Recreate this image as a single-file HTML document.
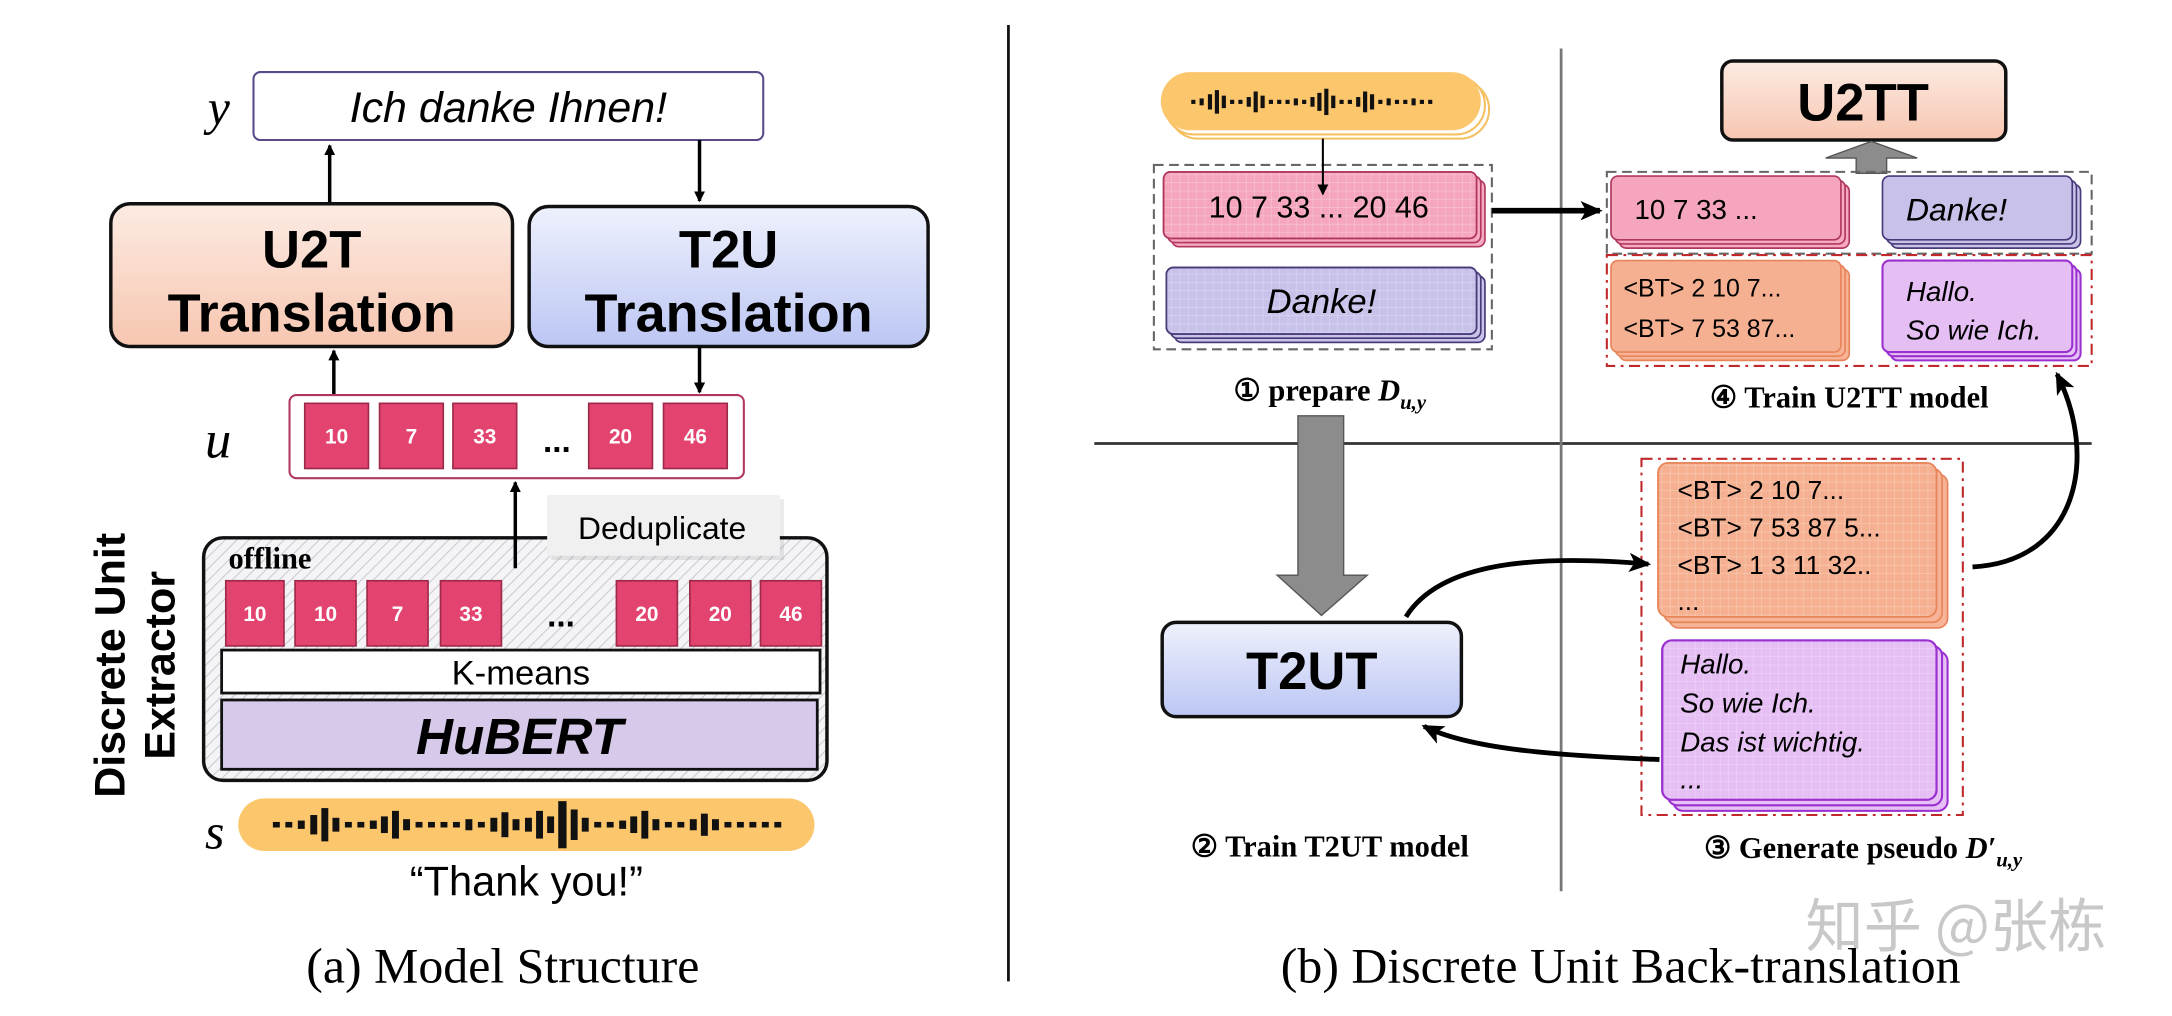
<!DOCTYPE html>
<html><head><meta charset="utf-8"><style>
html,body{margin:0;padding:0;background:#fff;}
svg{display:block;}
.sans{font-family:"Liberation Sans","DejaVu Sans",sans-serif;}
.serif{font-family:"Liberation Serif","DejaVu Serif",serif;}
</style></head><body>
<svg width="2172" height="1016" viewBox="0 0 1568 733" preserveAspectRatio="none" xmlns="http://www.w3.org/2000/svg">
<defs>
<linearGradient id="gU2T" x1="0" y1="0" x2="0" y2="1"><stop offset="0" stop-color="#fcebe3"/><stop offset="1" stop-color="#f7c6b0"/></linearGradient>
<linearGradient id="gT2U" x1="0" y1="0" x2="0" y2="1"><stop offset="0" stop-color="#eef1fc"/><stop offset="1" stop-color="#bcc6f4"/></linearGradient>
<pattern id="hatch" width="6" height="6" patternUnits="userSpaceOnUse" patternTransform="rotate(45)"><rect width="6" height="6" fill="#f4f4f6"/><line x1="0" y1="0" x2="0" y2="6" stroke="#c9c9d2" stroke-width="1.5"/></pattern>
<pattern id="grid" width="6" height="6" patternUnits="userSpaceOnUse"><path d="M6 0V6M0 6H6" stroke="#ffffff" stroke-opacity="0.35" stroke-width="0.8" fill="none"/></pattern>
<marker id="ah" markerWidth="8" markerHeight="8" refX="7" refY="4" orient="auto" markerUnits="userSpaceOnUse"><path d="M0,0 L8,4 L0,8 z" fill="#000"/></marker>
<marker id="ahb" markerWidth="16" markerHeight="14" refX="14" refY="7" orient="auto" markerUnits="userSpaceOnUse"><path d="M0,0 L16,7 L0,14 L4,7 z" fill="#000"/></marker>
</defs>

<!-- ===== Left panel ===== -->
<text x="150" y="90" class="serif" font-style="italic" font-size="36">y</text>
<rect x="183" y="52" width="368" height="49" rx="5" fill="#fff" stroke="#5a4a8a" stroke-width="1.5"/>
<text x="367" y="88" class="sans" font-style="italic" font-size="31" text-anchor="middle">Ich danke Ihnen!</text>

<line x1="238" y1="147" x2="238" y2="105" stroke="#000" stroke-width="2.5" marker-end="url(#ah)"/>
<line x1="505" y1="101" x2="505" y2="145" stroke="#000" stroke-width="2.5" marker-end="url(#ah)"/>

<rect x="80" y="147" width="290" height="103" rx="14" fill="url(#gU2T)" stroke="#111" stroke-width="2.5"/>
<text x="225" y="193" class="sans" font-weight="bold" font-size="38" text-anchor="middle">U2T</text>
<text x="225" y="239" class="sans" font-weight="bold" font-size="39" text-anchor="middle">Translation</text>
<rect x="382" y="149" width="288" height="101" rx="14" fill="url(#gT2U)" stroke="#111" stroke-width="2.5"/>
<text x="526" y="193" class="sans" font-weight="bold" font-size="38" text-anchor="middle">T2U</text>
<text x="526" y="239" class="sans" font-weight="bold" font-size="39" text-anchor="middle">Translation</text>

<line x1="241" y1="285" x2="241" y2="253" stroke="#000" stroke-width="2.5" marker-end="url(#ah)"/>
<line x1="505" y1="250" x2="505" y2="283" stroke="#000" stroke-width="2.5" marker-end="url(#ah)"/>

<text x="148" y="330" class="serif" font-style="italic" font-size="38">u</text>
<rect x="209" y="285" width="328" height="60" rx="5" fill="#fff" stroke="#b0385f" stroke-width="1.5"/>
<g fill="#e3436f" stroke="#9e2a4a" stroke-width="1.2">
<rect x="220" y="291" width="46" height="47"/><rect x="274" y="291" width="46" height="47"/><rect x="327" y="291" width="46" height="47"/>
<rect x="425" y="291" width="46" height="47"/><rect x="479" y="291" width="46" height="47"/></g>
<g class="sans" font-weight="bold" font-size="15" fill="#fff" text-anchor="middle">
<text x="243" y="320">10</text><text x="297" y="320">7</text><text x="350" y="320">33</text><text x="448" y="320">20</text><text x="502" y="320">46</text></g>
<text x="402" y="326" class="sans" font-weight="bold" font-size="24" text-anchor="middle">...</text>

<!-- offline box -->
<rect x="147" y="388" width="450" height="175" rx="14" fill="url(#hatch)" stroke="#111" stroke-width="2.5"/>
<rect x="398" y="360" width="168" height="44" fill="#000" opacity="0.08"/>
<rect x="395" y="357" width="168" height="44" fill="#f0f0f0"/>
<text x="478" y="389" class="sans" font-size="23" text-anchor="middle">Deduplicate</text>
<line x1="372" y1="410" x2="372" y2="348" stroke="#000" stroke-width="2.5" marker-end="url(#ah)"/>
<text x="165" y="410" class="serif" font-weight="bold" font-size="22">offline</text>
<g fill="#e3436f" stroke="#9e2a4a" stroke-width="1.2">
<rect x="163" y="419" width="42" height="47"/><rect x="213" y="419" width="44" height="47"/><rect x="265" y="419" width="44" height="47"/><rect x="318" y="419" width="44" height="47"/>
<rect x="445" y="419" width="44" height="47"/><rect x="498" y="419" width="44" height="47"/><rect x="549" y="419" width="44" height="47"/></g>
<g class="sans" font-weight="bold" font-size="15" fill="#fff" text-anchor="middle">
<text x="184" y="448">10</text><text x="235" y="448">10</text><text x="287" y="448">7</text><text x="340" y="448">33</text>
<text x="467" y="448">20</text><text x="520" y="448">20</text><text x="571" y="448">46</text></g>
<text x="405" y="452" class="sans" font-weight="bold" font-size="24" text-anchor="middle">...</text>
<rect x="160" y="469" width="432" height="31" fill="#fff" stroke="#111" stroke-width="2"/>
<text x="376" y="494" class="sans" font-size="25" text-anchor="middle">K-means</text>
<rect x="160" y="505" width="430" height="50" fill="#d6c9ea" stroke="#111" stroke-width="2"/>
<text x="375" y="544" class="sans" font-weight="bold" font-style="italic" font-size="37" text-anchor="middle">HuBERT</text>

<text x="90" y="480" class="sans" font-weight="bold" font-size="31" text-anchor="middle" transform="rotate(-90 90 480)">Discrete Unit</text>
<text x="120" y="480" class="sans" font-weight="bold" font-size="31" text-anchor="middle" transform="rotate(-90 120 480)" dy="6">Extractor</text>

<text x="148" y="612" class="serif" font-style="italic" font-size="36">s</text>
<rect x="172" y="576" width="416" height="38" rx="19" fill="#fbc66c"/>
<g fill="#111">
<rect x="197" y="593" width="5" height="4"/><rect x="206" y="593" width="5" height="4"/><rect x="215" y="592" width="5" height="6"/><rect x="224" y="588" width="5" height="14"/><rect x="232" y="583" width="5" height="24"/><rect x="240" y="590" width="5" height="10"/><rect x="249" y="593" width="5" height="4"/><rect x="258" y="593" width="5" height="4"/><rect x="267" y="592" width="5" height="6"/><rect x="275" y="589" width="5" height="12"/><rect x="283" y="585" width="5" height="20"/><rect x="291" y="591" width="5" height="8"/><rect x="300" y="593" width="5" height="4"/><rect x="309" y="593" width="5" height="4"/><rect x="318" y="593" width="5" height="4"/><rect x="327" y="593" width="5" height="4"/><rect x="336" y="591" width="5" height="8"/><rect x="345" y="593" width="5" height="4"/><rect x="354" y="590" width="5" height="10"/><rect x="362" y="586" width="5" height="18"/><rect x="370" y="591" width="5" height="8"/><rect x="379" y="590" width="5" height="10"/><rect x="387" y="585" width="5" height="20"/><rect x="395" y="589" width="5" height="12"/><rect x="403" y="578" width="6" height="34"/><rect x="412" y="584" width="5" height="22"/><rect x="420" y="590" width="5" height="10"/><rect x="429" y="593" width="5" height="4"/><rect x="438" y="593" width="5" height="4"/><rect x="447" y="592" width="5" height="6"/><rect x="455" y="589" width="5" height="12"/><rect x="463" y="585" width="5" height="20"/><rect x="471" y="591" width="5" height="8"/><rect x="480" y="593" width="5" height="4"/><rect x="489" y="593" width="5" height="4"/><rect x="498" y="591" width="5" height="8"/><rect x="506" y="587" width="5" height="16"/><rect x="514" y="591" width="5" height="8"/><rect x="523" y="593" width="5" height="4"/><rect x="532" y="593" width="5" height="4"/><rect x="541" y="593" width="5" height="4"/><rect x="550" y="593" width="5" height="4"/><rect x="559" y="593" width="5" height="4"/></g>
<text x="380" y="646" class="sans" font-size="30" text-anchor="middle">“Thank you!”</text>
<text x="363" y="709" class="serif" font-size="36" text-anchor="middle">(a) Model Structure</text>

<line x1="728" y1="18" x2="728" y2="708" stroke="#111" stroke-width="2"/>

<!-- ===== Right panel ===== -->
<line x1="790" y1="320" x2="1510" y2="320" stroke="#333" stroke-width="2"/>
<line x1="1127" y1="35" x2="1127" y2="643" stroke="#777" stroke-width="2"/>

<rect x="844" y="58" width="231" height="42" rx="21" fill="#fff" stroke="#f5c062" stroke-width="1.5"/>
<rect x="841" y="55" width="231" height="42" rx="21" fill="#fff" stroke="#f5c062" stroke-width="1.5"/>
<rect x="838" y="52" width="231" height="42" rx="21" fill="#fbc66c"/>
<g fill="#111">
<rect x="860" y="72" width="3" height="3"/><rect x="866" y="71" width="3" height="5"/><rect x="872" y="68" width="3" height="11"/><rect x="877" y="65" width="3" height="17"/><rect x="882" y="69" width="3" height="9"/><rect x="888" y="72" width="3" height="3"/><rect x="894" y="72" width="3" height="3"/><rect x="900" y="70" width="3" height="7"/><rect x="905" y="66" width="3" height="15"/><rect x="910" y="69" width="3" height="9"/><rect x="916" y="72" width="3" height="3"/><rect x="922" y="72" width="3" height="3"/><rect x="928" y="72" width="3" height="3"/><rect x="934" y="71" width="3" height="5"/><rect x="940" y="72" width="3" height="3"/><rect x="946" y="70" width="3" height="7"/><rect x="951" y="67" width="3" height="13"/><rect x="956" y="64" width="3" height="19"/><rect x="961" y="69" width="3" height="9"/><rect x="967" y="72" width="3" height="3"/><rect x="973" y="72" width="3" height="3"/><rect x="979" y="70" width="3" height="7"/><rect x="984" y="66" width="3" height="15"/><rect x="989" y="68" width="3" height="11"/><rect x="995" y="72" width="3" height="3"/><rect x="1001" y="71" width="3" height="5"/><rect x="1007" y="72" width="3" height="3"/><rect x="1013" y="72" width="3" height="3"/><rect x="1019" y="71" width="3" height="5"/><rect x="1025" y="72" width="3" height="3"/><rect x="1031" y="72" width="3" height="3"/></g>

<rect x="833" y="119" width="244" height="133" fill="none" stroke="#666" stroke-width="1.5" stroke-dasharray="7,4"/>
<g stroke="#b0385f" stroke-width="1.2">
<rect x="846" y="130" width="226" height="48" rx="5" fill="#f7a9c0"/><rect x="843" y="127" width="226" height="48" rx="5" fill="#f7a9c0"/>
<rect x="840" y="124" width="226" height="48" rx="5" fill="#f5a6bd"/><rect x="840" y="124" width="226" height="48" rx="5" fill="url(#grid)"/></g>
<text x="952" y="157" class="sans" font-size="22" text-anchor="middle">10 7 33 ... 20 46</text>
<line x1="955" y1="100" x2="955" y2="140" stroke="#000" stroke-width="1.5" marker-end="url(#ah)"/>
<g stroke="#4a3a7a" stroke-width="1.2">
<rect x="848" y="199" width="224" height="48" rx="5" fill="#c9c3ea"/><rect x="845" y="196" width="224" height="48" rx="5" fill="#c9c3ea"/>
<rect x="842" y="193" width="224" height="48" rx="5" fill="#c8c2ea"/><rect x="842" y="193" width="224" height="48" rx="5" fill="url(#grid)"/></g>
<text x="954" y="226" class="sans" font-style="italic" font-size="25" text-anchor="middle">Danke!</text>
<text x="960" y="289" class="serif" font-weight="bold" font-size="22" text-anchor="middle">① prepare <tspan font-style="italic">D</tspan><tspan font-style="italic" font-size="15" dy="6">u,y</tspan></text>

<line x1="1077" y1="152" x2="1155" y2="152" stroke="#000" stroke-width="4" marker-end="url(#ahb)"/>

<path d="M937,300 H970 V415 H987 L954,444 L922,415 H937 Z" fill="#8c8c8c" stroke="#555" stroke-width="1"/>

<rect x="839" y="449" width="216" height="68" rx="10" fill="url(#gT2U)" stroke="#111" stroke-width="2.5"/>
<text x="947" y="497" class="sans" font-weight="bold" font-size="38" text-anchor="middle">T2UT</text>
<text x="960" y="618" class="serif" font-weight="bold" font-size="22" text-anchor="middle">② Train T2UT model</text>

<rect x="1243" y="44" width="205" height="57" rx="8" fill="url(#gU2T)" stroke="#111" stroke-width="2.5"/>
<text x="1345" y="87" class="sans" font-weight="bold" font-size="38" text-anchor="middle">U2TT</text>
<path d="M1340,125 V114 H1318 L1351,102 L1384,114 H1362 V125 Z" fill="#8c8c8c" stroke="#555" stroke-width="1"/>

<rect x="1160" y="124" width="350" height="59" fill="none" stroke="#666" stroke-width="1.5" stroke-dasharray="7,4"/>
<g stroke="#b0385f" stroke-width="1.2">
<rect x="1169" y="133" width="166" height="46" rx="5" fill="#f7a9c0"/><rect x="1166" y="130" width="166" height="46" rx="5" fill="#f7a9c0"/>
<rect x="1163" y="127" width="166" height="46" rx="5" fill="#f5a6bd"/></g>
<text x="1180" y="158" class="sans" font-size="20">10 7 33 ...</text>
<g stroke="#4a3a7a" stroke-width="1.2">
<rect x="1365" y="133" width="137" height="46" rx="5" fill="#c9c3ea"/><rect x="1362" y="130" width="137" height="46" rx="5" fill="#c9c3ea"/>
<rect x="1359" y="127" width="137" height="46" rx="5" fill="#c8c2ea"/></g>
<text x="1376" y="159" class="sans" font-style="italic" font-size="23">Danke!</text>

<rect x="1160" y="184" width="350" height="80" fill="none" stroke="#c0282b" stroke-width="1.5" stroke-dasharray="8,4,2,4"/>
<g stroke="#e8845a" stroke-width="1.2">
<rect x="1169" y="194" width="166" height="66" rx="5" fill="#f6b395"/><rect x="1166" y="191" width="166" height="66" rx="5" fill="#f6b395"/>
<rect x="1163" y="188" width="166" height="66" rx="5" fill="#f5b091"/></g>
<text x="1172" y="214" class="sans" font-size="18">&lt;BT&gt; 2 10 7...</text>
<text x="1172" y="243" class="sans" font-size="18">&lt;BT&gt; 7 53 87...</text>
<g stroke="#9b30d0" stroke-width="1.5">
<rect x="1365" y="194" width="137" height="66" rx="5" fill="#e7c1f5"/><rect x="1362" y="191" width="137" height="66" rx="5" fill="#e7c1f5"/>
<rect x="1359" y="188" width="137" height="66" rx="5" fill="#e5bef4"/></g>
<text x="1376" y="217" class="sans" font-style="italic" font-size="20">Hallo.</text>
<text x="1376" y="245" class="sans" font-style="italic" font-size="20">So wie Ich.</text>
<text x="1335" y="294" class="serif" font-weight="bold" font-size="22" text-anchor="middle">④ Train U2TT model</text>

<!-- pseudo -->
<rect x="1185" y="331" width="232" height="257" fill="none" stroke="#c0282b" stroke-width="1.5" stroke-dasharray="8,4,2,4"/>
<g stroke="#e8845a" stroke-width="1.2">
<rect x="1205" y="342" width="201" height="111" rx="7" fill="#f6b395"/><rect x="1201" y="338" width="201" height="111" rx="7" fill="#f6b395"/>
<rect x="1197" y="334" width="201" height="111" rx="7" fill="#f5b091"/><rect x="1197" y="334" width="201" height="111" rx="7" fill="url(#grid)"/></g>
<g class="sans" font-size="19"><text x="1211" y="360">&lt;BT&gt; 2 10  7...</text><text x="1211" y="387">&lt;BT&gt; 7 53 87 5...</text><text x="1211" y="414">&lt;BT&gt; 1  3  11 32..</text><text x="1211" y="440">...</text></g>
<g stroke="#9b30d0" stroke-width="1.5">
<rect x="1208" y="470" width="198" height="115" rx="7" fill="#e7c1f5"/><rect x="1204" y="466" width="198" height="115" rx="7" fill="#e7c1f5"/>
<rect x="1200" y="462" width="198" height="115" rx="7" fill="#e5bef4"/><rect x="1200" y="462" width="198" height="115" rx="7" fill="url(#grid)"/></g>
<g class="sans" font-style="italic" font-size="20"><text x="1213" y="486">Hallo.</text><text x="1213" y="514">So wie Ich.</text><text x="1213" y="542">Das ist wichtig.</text><text x="1213" y="569">...</text></g>
<text x="1345" y="619" class="serif" font-weight="bold" font-size="22" text-anchor="middle">③ Generate pseudo <tspan font-style="italic">D′</tspan><tspan font-style="italic" font-size="15" dy="6">u,y</tspan></text>

<path d="M1015,445 C1040,405 1110,400 1190,407" fill="none" stroke="#000" stroke-width="3.5" marker-end="url(#ahb)"/>
<path d="M1198,548 C1120,545 1060,540 1028,524" fill="none" stroke="#000" stroke-width="3.5" marker-end="url(#ahb)"/>
<path d="M1424,409 C1500,405 1515,330 1485,270" fill="none" stroke="#000" stroke-width="3.5" marker-end="url(#ahb)"/>

<text x="1412" y="683" font-family="'Noto Sans CJK SC','WenQuanYi Zen Hei',sans-serif" font-size="42" fill="#bbbbbb" opacity="0.8" text-anchor="middle">知乎 @张栋</text>
<text x="1170" y="709" class="serif" font-size="36" text-anchor="middle">(b) Discrete Unit Back-translation</text>
</svg>
</body></html>
